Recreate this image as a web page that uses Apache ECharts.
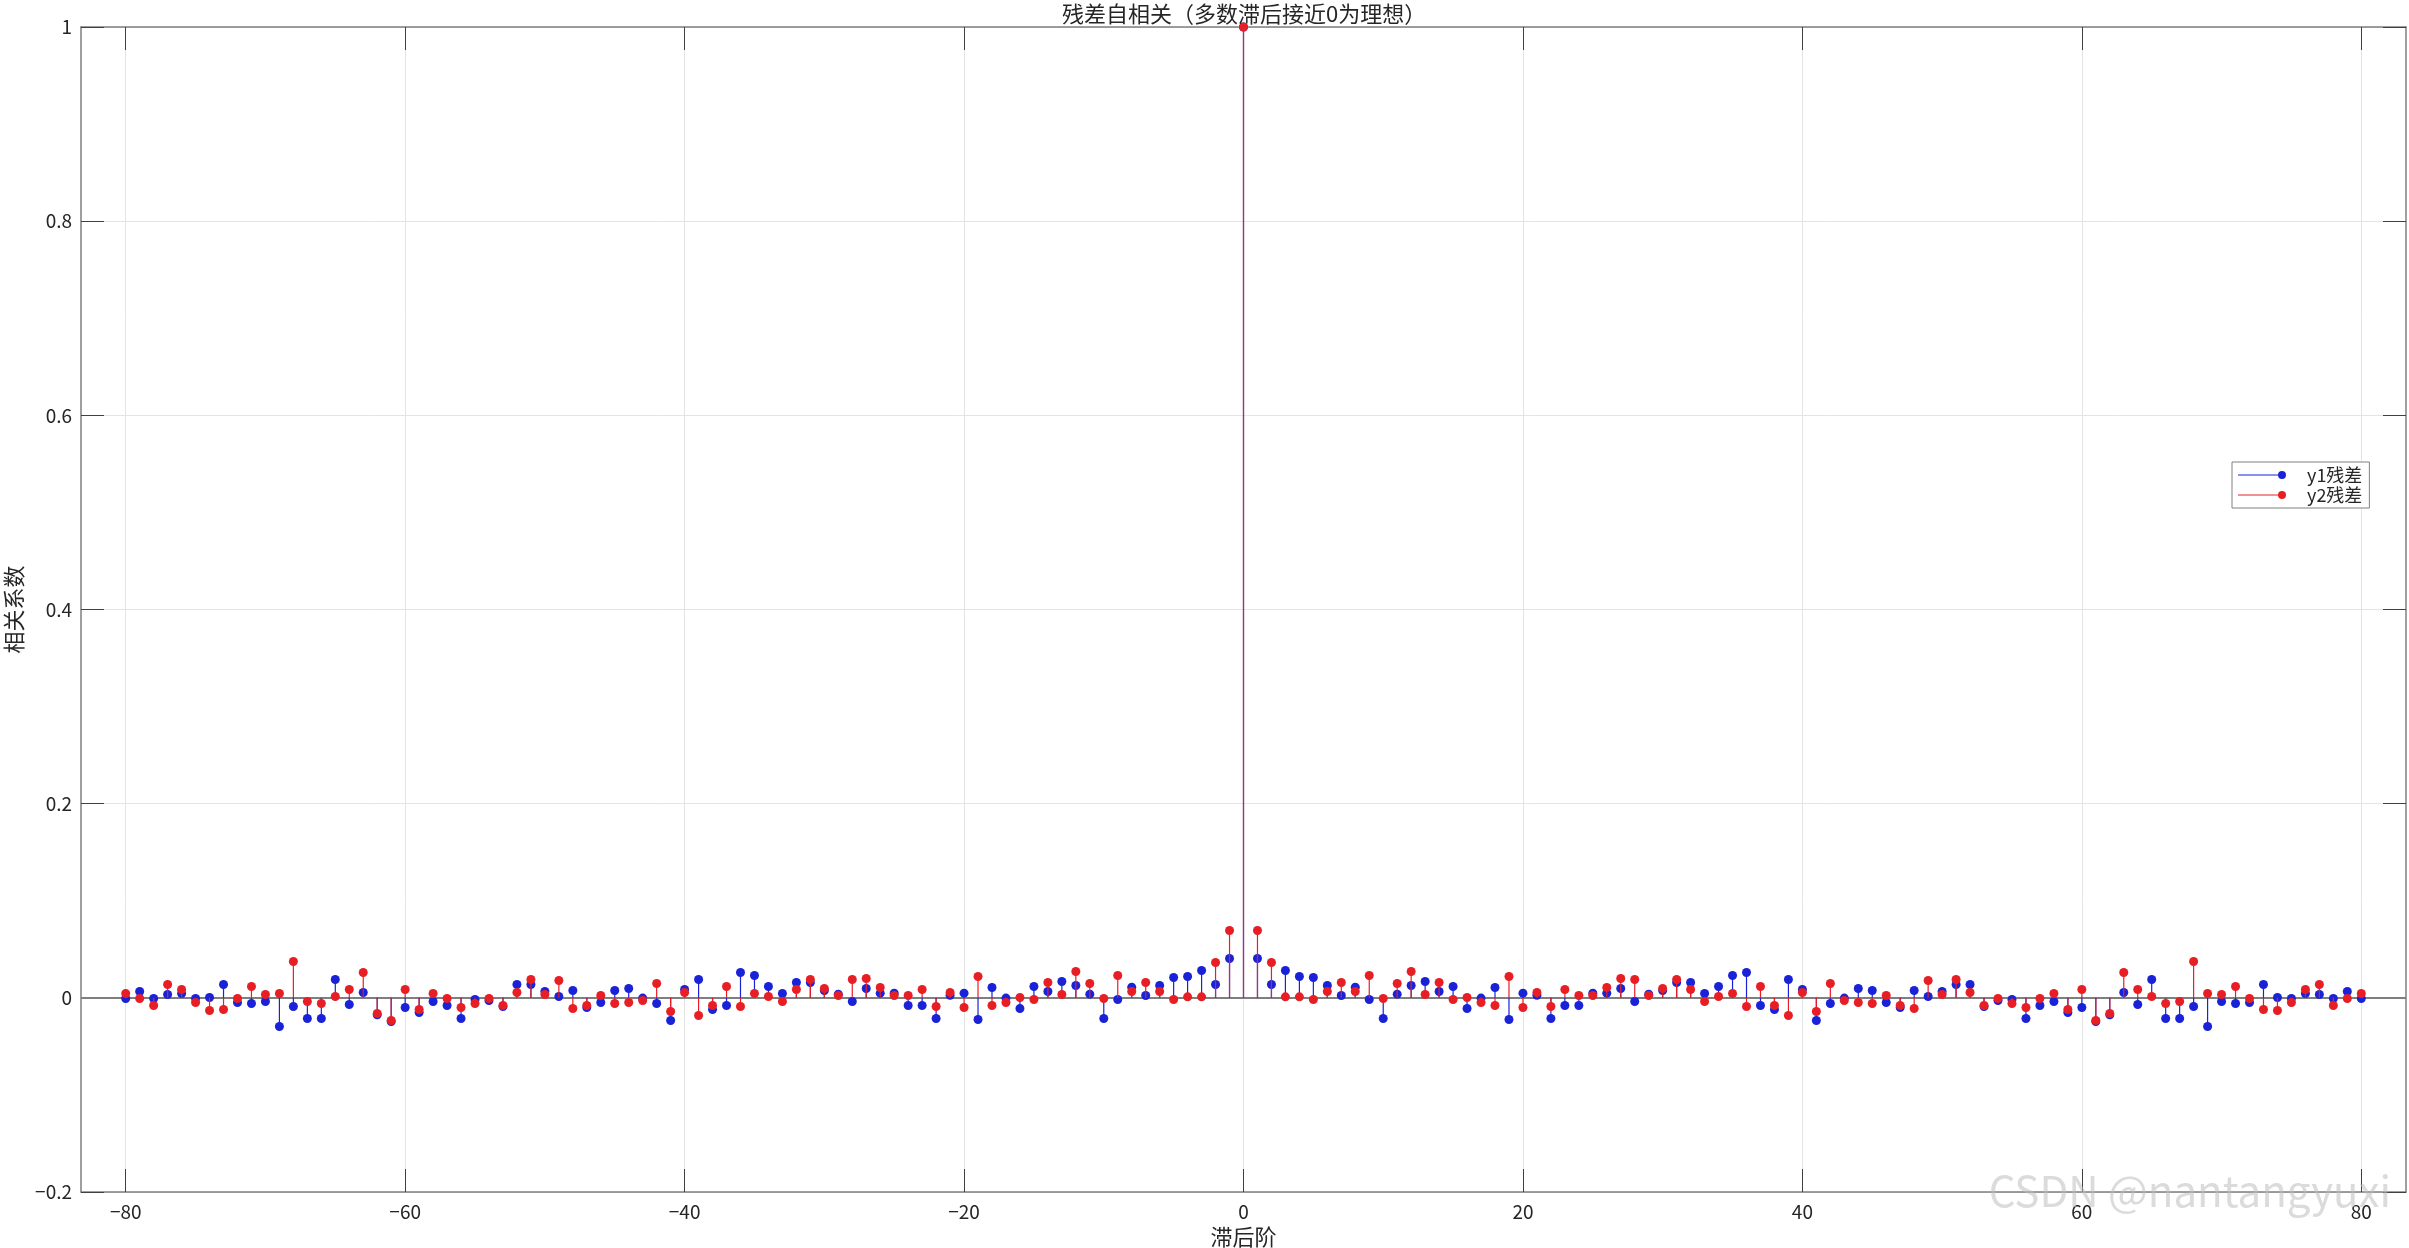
<!DOCTYPE html>
<html>
<head>
<meta charset="utf-8">
<script src="https://cdn.jsdelivr.net/npm/echarts@6/dist/echarts.min.js"></script>
<style>
  html, body { margin: 0; padding: 0; background: #fff; }
  #chart { width: 2409px; height: 1248px; }
</style>
</head>
<body>
<div id="chart"></div>
<script>
// lag -80 .. 80
const lags = Array.from({ length: 161 }, (_, i) => i - 80)

const y1Acf = [
  -0.0007, 0.0065, -0.0007, 0.0034, 0.0045, -0.0007, 0.0003, 0.0137, -0.0048, -0.0058,
  -0.0038, -0.0295, -0.0089, -0.0213, -0.0213, 0.0189, -0.0069, 0.0055, -0.0175, -0.0244,
  -0.0100, -0.0151, -0.0038, -0.0079, -0.0213, -0.0017, -0.0027, -0.0089, 0.0137, 0.0137,
  0.0065, 0.0014, 0.0076, -0.0100, -0.0048, 0.0076, 0.0096, -0.0003, -0.0058, -0.0233,
  0.0086, 0.0189, -0.0120, -0.0079, 0.0261, 0.0230, 0.0117, 0.0045, 0.0158, 0.0158,
  0.0076, 0.0038, -0.0038, 0.0096, 0.0048, 0.0048, -0.0079, -0.0079, -0.0213, 0.0027,
  0.0048, -0.0223, 0.0106, -0.0003, -0.0110, 0.0117, 0.0065, 0.0168, 0.0127, 0.0038,
  -0.0213, -0.0017, 0.0110, 0.0024, 0.0127, 0.0210, 0.0220, 0.0282, 0.0137, 0.0405,
  1,
  0.0405, 0.0137, 0.0282, 0.0220, 0.0210, 0.0127, 0.0024, 0.0110, -0.0017, -0.0213,
  0.0038, 0.0127, 0.0168, 0.0065, 0.0117, -0.0110, -0.0003, 0.0106, -0.0223, 0.0048,
  0.0027, -0.0213, -0.0079, -0.0079, 0.0048, 0.0048, 0.0096, -0.0038, 0.0038, 0.0076,
  0.0158, 0.0158, 0.0045, 0.0117, 0.0230, 0.0261, -0.0079, -0.0120, 0.0189, 0.0086,
  -0.0233, -0.0058, -0.0003, 0.0096, 0.0076, -0.0048, -0.0100, 0.0076, 0.0014, 0.0065,
  0.0137, 0.0137, -0.0089, -0.0027, -0.0017, -0.0213, -0.0079, -0.0038, -0.0151, -0.0100,
  -0.0244, -0.0175, 0.0055, -0.0069, 0.0189, -0.0213, -0.0213, -0.0089, -0.0295, -0.0038,
  -0.0058, -0.0048, 0.0137, 0.0003, -0.0007, 0.0045, 0.0034, -0.0007, 0.0065, -0.0007,
]

const y2Acf = [
  0.0045, -0.0007, -0.0079, 0.0137, 0.0086, -0.0048, -0.0130, -0.0120, -0.0007, 0.0117,
  0.0034, 0.0045, 0.0374, -0.0038, -0.0058, 0.0014, 0.0086, 0.0261, -0.0161, -0.0233,
  0.0086, -0.0120, 0.0045, -0.0007, -0.0100, -0.0058, -0.0007, -0.0079, 0.0055, 0.0189,
  0.0034, 0.0179, -0.0110, -0.0079, 0.0024, -0.0058, -0.0048, -0.0027, 0.0148, -0.0141,
  0.0055, -0.0182, -0.0079, 0.0117, -0.0089, 0.0045, 0.0014, -0.0038, 0.0086, 0.0189,
  0.0096, 0.0024, 0.0189, 0.0199, 0.0106, 0.0024, 0.0024, 0.0086, -0.0089, 0.0055,
  -0.0100, 0.0220, -0.0079, -0.0048, 0.0003, -0.0017, 0.0158, 0.0034, 0.0271, 0.0148,
  -0.0007, 0.0230, 0.0065, 0.0158, 0.0065, -0.0017, 0.0010, 0.0010, 0.0364, 0.0694,
  1,
  0.0694, 0.0364, 0.0010, 0.0010, -0.0017, 0.0065, 0.0158, 0.0065, 0.0230, -0.0007,
  0.0148, 0.0271, 0.0034, 0.0158, -0.0017, 0.0003, -0.0048, -0.0079, 0.0220, -0.0100,
  0.0055, -0.0089, 0.0086, 0.0024, 0.0024, 0.0106, 0.0199, 0.0189, 0.0024, 0.0096,
  0.0189, 0.0086, -0.0038, 0.0014, 0.0045, -0.0089, 0.0117, -0.0079, -0.0182, 0.0055,
  -0.0141, 0.0148, -0.0027, -0.0048, -0.0058, 0.0024, -0.0079, -0.0110, 0.0179, 0.0034,
  0.0189, 0.0055, -0.0079, -0.0007, -0.0058, -0.0100, -0.0007, 0.0045, -0.0120, 0.0086,
  -0.0233, -0.0161, 0.0261, 0.0086, 0.0014, -0.0058, -0.0038, 0.0374, 0.0045, 0.0034,
  0.0117, -0.0007, -0.0120, -0.0130, -0.0048, 0.0086, 0.0137, -0.0079, -0.0007, 0.0045,
]

const xTicks = [-80, -60, -40, -20, 0, 20, 40, 60, 80]
const seriesNames = ['y1残差', 'y2残差']

const FONT = '"Noto Sans CJK SC", "Noto Sans", sans-serif'
const TEXT = '#262626'
const AXIS = '#7f7f7f'
const GRID = '#e4e4e4'
const BLUE = '#1a22d8'
const RED = '#e81e25'

const minus = (s) => s.replace('-', '\u2212')

function stemItem(params, api) {
  const x = api.value(0)
  const v = api.value(1)
  const top = api.coord([x, v])
  const base = api.coord([x, 0])
  const color = api.visual('color')
  return {
    type: 'group',
    children: [
      { type: 'line', shape: { x1: base[0], y1: base[1], x2: top[0], y2: top[1] }, style: { stroke: color, lineWidth: 1.2 } },
      { type: 'circle', shape: { cx: top[0], cy: top[1], r: 4.5 }, style: { fill: color } },
    ],
  }
}

const legendIcon = 'path://M0,4.5 L44,4.5 L44,5.5 L0,5.5 Z M48,5 A4,4 0 1,1 40,5 A4,4 0 1,1 48,5 Z'

const xBase = {
  type: 'value',
  min: -83.2,
  max: 83.2,
  axisLine: { show: true, onZero: false, lineStyle: { color: AXIS, width: 1.5 } },
}
const yBase = {
  type: 'value',
  min: -0.2,
  max: 1,
  interval: 0.2,
  axisLine: { show: true, onZero: false, lineStyle: { color: AXIS, width: 1.5 } },
}

const option = {
  backgroundColor: '#fff',
  animation: false,
  textStyle: { fontFamily: FONT },
  title: {
    text: '残差自相关（多数滞后接近0为理想）',
    left: 1057,
    top: -3,
    textStyle: { fontFamily: FONT, fontSize: 22, fontWeight: 'normal', color: TEXT, lineHeight: 24 },
  },
  legend: {
    orient: 'vertical',
    left: 2232,
    top: 462,
    padding: [4, 7, 4, 6],
    itemGap: 2,
    itemWidth: 48,
    itemHeight: 10,
    icon: legendIcon,
    backgroundColor: '#fff',
    borderColor: '#808080',
    borderWidth: 1,
    borderRadius: 0,
    textStyle: { fontFamily: FONT, fontSize: 18, color: TEXT, lineHeight: 18, padding: [0, 0, 0, 16] },
    data: seriesNames,
  },
  grid: { left: 81, right: 3, top: 27, bottom: 56, containLabel: false, outerBoundsMode: 'none' },
  xAxis: [
    {
      ...xBase,
      position: 'bottom',
      name: '滞后阶',
      nameLocation: 'middle',
      nameGap: 30,
      nameTextStyle: { fontFamily: FONT, fontSize: 22, color: TEXT },
      axisTick: { show: true, inside: true, length: 23, customValues: xTicks, lineStyle: { color: '#404040' } },
      axisLabel: {
        customValues: xTicks,
        margin: 10,
        fontFamily: FONT,
        fontSize: 19,
        color: TEXT,
        formatter: (v) => minus(String(v)),
      },
      splitLine: { show: true, lineStyle: { color: GRID, width: 1 } },
    },
    {
      ...xBase,
      position: 'top',
      axisTick: { show: true, inside: true, length: 23, customValues: xTicks, lineStyle: { color: '#404040' } },
      axisLabel: { show: false },
      splitLine: { show: false },
    },
  ],
  yAxis: [
    {
      ...yBase,
      position: 'left',
      name: '相关系数',
      nameLocation: 'middle',
      nameRotate: 90,
      nameGap: 56,
      nameTextStyle: { fontFamily: FONT, fontSize: 22, color: TEXT },
      axisTick: { show: true, inside: true, length: 23, lineStyle: { color: '#404040' } },
      axisLabel: {
        margin: 9,
        fontFamily: FONT,
        fontSize: 19,
        color: TEXT,
        formatter: (v) => {
          const r = Math.round(v * 10) / 10
          if (r === 0) return '0'
          if (r === 1) return '1'
          return minus(r.toFixed(1))
        },
      },
      splitLine: { show: true, lineStyle: { color: GRID, width: 1 } },
    },
    {
      ...yBase,
      position: 'right',
      axisTick: { show: true, inside: true, length: 23, lineStyle: { color: '#404040' } },
      axisLabel: { show: false },
      splitLine: { show: false },
    },
  ],
  graphic: [
    {
      type: 'text',
      right: 18,
      bottom: 36,
      z: 100,
      style: { text: 'CSDN @nantangyuxi', fontFamily: FONT, fontSize: 42, fill: 'rgba(190,190,190,0.55)' },
    },
  ],
  series: [
    {
      name: seriesNames[0],
      type: 'custom',
      xAxisIndex: 0,
      yAxisIndex: 0,
      itemStyle: { color: BLUE },
      renderItem: stemItem,
      encode: { x: 0, y: 1 },
      data: lags.map((l, i) => [l, y1Acf[i]]),
      markLine: {
        silent: true,
        symbol: 'none',
        label: { show: false },
        lineStyle: { color: AXIS, width: 1.8, type: 'solid' },
        data: [{ yAxis: 0 }],
        z: 1,
      },
      z: 2,
    },
    {
      name: seriesNames[1],
      type: 'custom',
      xAxisIndex: 0,
      yAxisIndex: 0,
      itemStyle: { color: RED },
      renderItem: stemItem,
      encode: { x: 0, y: 1 },
      data: lags.map((l, i) => [l, y2Acf[i]]),
      z: 3,
    },
  ],
}

const chart = echarts.init(document.getElementById('chart'))
chart.setOption(option)
</script>
</body>
</html>
